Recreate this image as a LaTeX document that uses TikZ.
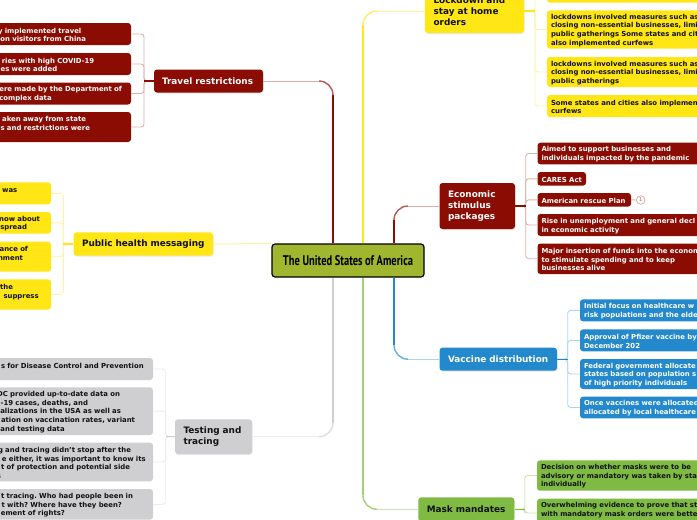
\documentclass[tikz,border=0pt]{standalone}
\usepackage{fontspec}
\setmainfont{DejaVu Sans}
\newfontfamily\rootfont{PT Sans}
\frenchspacing
\usetikzlibrary{calc,shadows}
\definecolor{cRed}{HTML}{8A0C02}\definecolor{cRedM}{HTML}{B45A52}\definecolor{cRedL}{HTML}{DDAFAB}
\definecolor{cYel}{HTML}{FFE614}\definecolor{cYelM}{HTML}{FFEE66}\definecolor{cYelL}{HTML}{FFF3A6}
\definecolor{cGry}{HTML}{CFCFD1}\definecolor{cGryM}{HTML}{DDDDDE}\definecolor{cGryL}{HTML}{ECECED}
\definecolor{cBlu}{HTML}{2388CC}\definecolor{cBluM}{HTML}{63ABDD}\definecolor{cBluL}{HTML}{ADD4EF}
\definecolor{cGrn}{HTML}{7FBB42}\definecolor{cGrnM}{HTML}{A3CF76}\definecolor{cGrnL}{HTML}{CBE4B2}
\definecolor{cRoot}{HTML}{9FB62E}
\definecolor{cTxt}{HTML}{111111}
\tikzset{
  base/.style={rounded corners=3pt,inner ysep=0pt,align=left,font=\fontsize{6.9}{8.6}\selectfont\bfseries,execute at begin node={\rule{0pt}{7pt}}},
  head/.style={rounded corners=3pt,inner ysep=0pt,align=left,font=\fontsize{8.9}{11}\selectfont\bfseries,drop shadow={opacity=.18,shadow xshift=.5pt,shadow yshift=-1pt}},
  red/.style={fill=cRed,text=white},
  yel/.style={fill=cYel,text=cTxt},
  gry/.style={fill=cGry,text=cTxt},
  blu/.style={fill=cBlu,text=white},
  grn/.style={fill=cGrn,text=cTxt},
  lnk/.style={line width=.9pt,rounded corners=3pt,draw=#1},
  stub/.style={line width=1.2pt,draw=#1},
}
\newcommand\bxg[8]{% px,name,style,x1,y1,x2,y2,text
  \pgfmathsetmacro\tw{#6-#4-2*#1}\pgfmathsetmacro\hh{#7-#5}
  \node[#3,inner xsep=#1pt,text width=\tw pt,minimum height=\hh pt] (#2) at ({(#4+#6)/2},{(#5+#7)/2}) {#8};}
\newcommand\rl[2]{\makebox[\dimexpr#1pt+36pt\relax][r]{#2}}
\newcommand\trunkline[8]{% x coord, root anchor, target anchor, R, dx, dark, mid, lite
  \coordinate (tC) at (#1 |- #3);
  \coordinate (tA) at ($(tC)+(0,#4)$);
  \coordinate (tB) at ($(tC)+(#5,0)$);
  \draw[line width=1.7pt,draw=#6] (#1 |- #2) -- (tA);
  \draw[line width=1.4pt,draw=#7] (tA) .. controls ($(tA)!.55!(tC)$) and ($(tB)!.55!(tC)$) .. (tB);
  \draw[line width=1pt,draw=#8] (tB) -- (#3);}
\begin{document}
\begin{tikzpicture}[x=1pt,y=-1pt]
\useasboundingbox (0,0) rectangle (697,520);
% left: travel
\bxg{8}{travel}{head,red}{154}{69.5}{263}{92.5}{Travel restrictions}
\bxg{4}{tra}{base,red}{-40}{23}{131}{45}{\rl{81.3}{y implemented travel}\\\rl{86}{on visitors from China}}
\bxg{4}{trb}{base,red}{-40}{53}{131}{75}{\rl{94.3}{ries with high COVID-19}\\\rl{57.3}{es were added}}
\bxg{4}{trc}{base,red}{-40}{82.5}{131}{104.5}{\rl{122}{ere made by the Department of}\\\rl{51.7}{complex data}}
\bxg{4}{trd}{base,red}{-40}{112}{131}{142}{\rl{86}{aken away from state}\\\rl{90}{s and restrictions were}\\~}
% left: public health
\bxg{8.5}{pub}{head,yel}{73.5}{232.3}{213}{255.7}{\mbox{Public health messaging}}
\bxg{4}{pua}{base,yel}{-40}{182.3}{51}{204.3}{\rl{17.3}{was}\\~}
\bxg{4}{pub2}{base,yel}{-40}{212}{51}{233.7}{\rl{40}{now about}\\\rl{27}{spread}}
\bxg{4}{puc}{base,yel}{-40}{241.7}{51}{271.7}{\rl{28}{ance of}\\\rl{23}{nment}\\~}
\bxg{4}{pud}{base,yel}{-40}{279.3}{51}{309.7}{\rl{13}{the}\\\rl{38.7}{suppress}\\~}
% left: testing
\bxg{8.5}{tes}{head,gry}{175}{419.3}{252}{454}{Testing and\\tracing}
\bxg{4}{tea}{base,gry}{-40}{358}{153}{380}{\rl{143.7}{s for Disease Control and Prevention}\\~}
\bxg{4}{teb}{base,gry}{-40}{387.3}{153}{435}{\rl{120}{DC provided up-to-date data on}\\\rl{88}{-19 cases, deaths, and}\\\rl{121}{alizations in the USA as well as}\\\rl{135}{ation on vaccination rates, variant}\\\rl{64.7}{and testing data}}
\bxg{4}{tec}{base,gry}{-40}{442.7}{153}{481.3}{\rl{131}{g and tracing didn't stop after the}\\\rl{145.7}{e either, it was important to know its}\\\rl{130}{t of protection and potential side}\\\rl{1}{s}}
\bxg{4}{ted}{base,gry}{-40}{489}{153}{519.7}{\rl{133}{t tracing. Who had people been in}\\\rl{122}{t with? Where have they been?}\\\rl{65}{ement of rights?}}
% right: lockdown
\bxg{8.5}{loc}{head,yel}{425}{-11}{524}{33}{Lockdown and\\stay at home\\orders}
\bxg{4}{loa}{base,yel}{547}{-30}{780}{2.7}{~}
\bxg{4}{lob}{base,yel}{547}{10.3}{780}{48.7}{lockdowns involved measures such as\\closing non-essential businesses, limi\\public gatherings Some states and citi\\also implemented curfews}
\bxg{4}{loc2}{base,yel}{547}{57}{780}{87}{lockdowns involved measures such as\\closing non-essential businesses, limi\\public gatherings}
\bxg{4}{lod}{base,yel}{547}{95}{780}{117}{Some states and cities also implemen\\curfews}
% right: economic
\bxg{8.5}{eco}{head,red}{439.5}{183}{515}{229}{Economic\\stimulus\\packages}
\bxg{4}{eca}{base,red}{537.5}{142.7}{780}{164.3}{Aimed to support businesses and\\individuals impacted by the pandemic}
\bxg{4}{ecb}{base,red}{537.5}{172}{586}{185.7}{\mbox{CARES Act}}
\bxg{4}{ecc}{base,red}{537.5}{193}{631}{206.7}{\mbox{American rescue Plan}}
\bxg{4}{ecd}{base,red}{537.5}{214}{780}{236}{Rise in unemployment and general decl\\in economic activity}
\bxg{4}{ece}{base,red}{537.5}{243.5}{780}{274}{Major insertion of funds into the econom\\to stimulate spending and to keep\\businesses alive}
\node[circle,draw=cRedL,line width=.8pt,fill=white,text=cRedM,inner sep=0pt,minimum size=8.6pt,font=\fontsize{5}{5}\selectfont] (cir) at (640.7,200) {1};
% right: vaccine
\bxg{8.5}{vac}{head,blu}{439.5}{347.7}{557}{370.7}{Vaccine distribution}
\bxg{4}{vaa}{base,blu}{580}{299.3}{780}{321.3}{Initial focus on healthcare w\\risk populations and the elde}
\bxg{4}{vab}{base,blu}{580}{329.3}{780}{351.3}{Approval of Pfizer vaccine by\\December 202}
\bxg{4}{vac2}{base,blu}{580}{359}{780}{389}{Federal government allocate\\states based on population s\\of high priority individuals}
\bxg{4}{vad}{base,blu}{580}{396.7}{780}{418.3}{Once vaccines were allocated\\allocated by local healthcare}
% right: mask
\bxg{8.5}{mas}{head,grn}{418.3}{497.3}{514.3}{521.3}{Mask mandates}
\bxg{4}{maa}{base,grn}{537}{460.3}{780}{490.7}{Decision on whether masks were to be\\advisory or mandatory was taken by sta\\individually}
\bxg{4}{mab}{base,grn}{537}{498.7}{780}{527.3}{Overwhelming evidence to prove that st\\with mandatory mask orders were bette\\~}
% root
\node[draw=black,line width=1.2pt,fill=cRoot,rounded corners=3pt,minimum width=152pt,minimum height=33pt,inner sep=0pt] (root) at (348,260.5) {\rootfont\bfseries\fontsize{14}{14}\selectfont\resizebox{130pt}{\height}{The United States of America}};
% junction columns
\coordinate (jt) at (144,0);\coordinate (jp) at (63.3,0);\coordinate (je) at (165.7,0);
\coordinate (jl) at (535,0);\coordinate (jc) at (525.7,0);\coordinate (jv) at (567.7,0);\coordinate (jm) at (524.7,0);
\coordinate (k1) at (333,0);\coordinate (k2) at (363,0);\coordinate (k3) at (394,0);
% branches
\foreach \c in {tra,trb,trc,trd} \draw[lnk=cRedL] (\c.east) -- (\c.east -| jt) -- (jt |- travel.west) -- (travel.west);
\draw[stub=cRed] (travel.west) -- (jt |- travel.west);
\foreach \c in {pua,pub2,puc,pud} \draw[lnk=cYelL] (\c.east) -- (\c.east -| jp) -- (jp |- pub.west) -- (pub.west);
\draw[stub=cYel] (pub.west) -- (jp |- pub.west);
\foreach \c in {tea,teb,tec,ted} \draw[lnk=cGryL] (\c.east) -- (\c.east -| je) -- (je |- tes.west) -- (tes.west);
\draw[stub=cGry] (tes.west) -- (je |- tes.west);
\foreach \c in {loa,lob,loc2,lod} \draw[lnk=cYelL] (\c.west) -- (\c.west -| jl) -- (jl |- loc.east) -- (loc.east);
\draw[stub=cYel] (loc.east) -- (jl |- loc.east);
\foreach \c in {eca,ecb,ecc,ecd,ece} \draw[lnk=cRedL] (\c.west) -- (\c.west -| jc) -- (jc |- eco.east) -- (eco.east);
\draw[stub=cRed] (eco.east) -- (jc |- eco.east);
\draw[lnk=cRedL] (ecc.east) -- (cir.west);
\foreach \c in {vaa,vab,vac2,vad} \draw[lnk=cBluL] (\c.west) -- (\c.west -| jv) -- (jv |- vac.east) -- (vac.east);
\draw[stub=cBlu] (vac.east) -- (jv |- vac.east);
\foreach \c in {maa,mab} \draw[lnk=cGrnL] (\c.west) -- (\c.west -| jm) -- (jm |- mas.east) -- (mas.east);
\draw[stub=cGrn] (mas.east) -- (jm |- mas.east);
% main trunks
\trunkline{k1}{root.north}{travel.east}{14}{-14}{cRed}{cRedM}{cRedL}
\trunkline{k2}{root.north}{loc.west}{14}{14}{cYel}{cYelM}{cYelL}
\trunkline{k3}{root.north}{eco.west}{14}{14}{cRed}{cRedM}{cRedL}
\trunkline{k1}{root.south}{tes.east}{-14}{-14}{cGry}{cGryM}{cGryL}
\trunkline{k2}{root.south}{mas.west}{-14}{14}{cGrnM}{cGrnM}{cGrnL}
\trunkline{k3}{root.south}{vac.west}{-14}{14}{cBlu}{cBluM}{cBluL}
\draw[line width=1pt,draw=cYelL] (root.north west) -- (pub.east);
\end{tikzpicture}
\end{document}
